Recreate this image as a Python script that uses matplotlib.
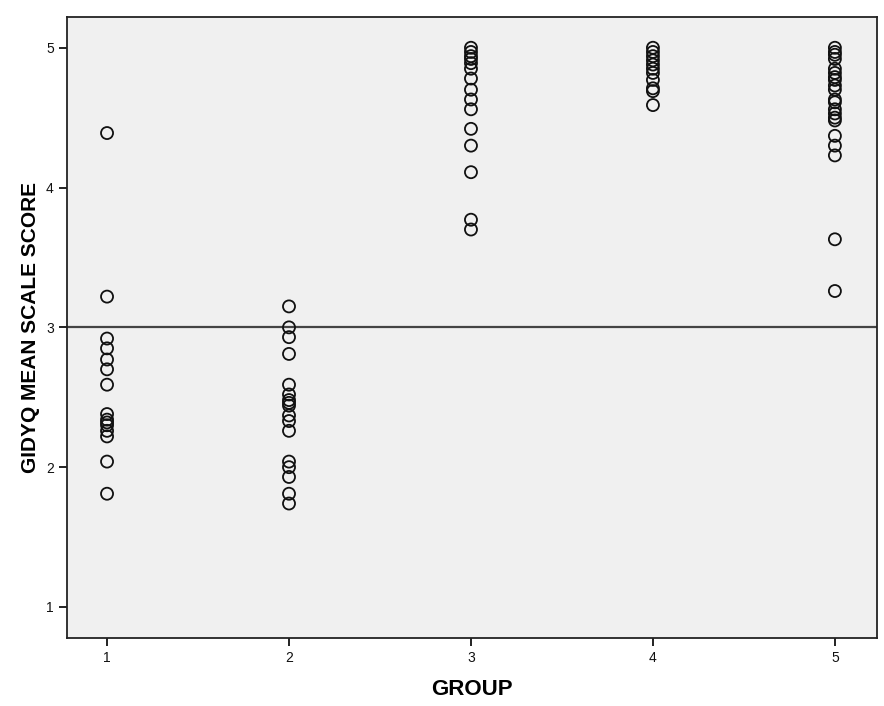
import matplotlib.pyplot as plt

# scores, one list per group
group1 = [4.39, 3.22, 2.92, 2.85, 2.77, 2.70, 2.59, 2.38, 2.34, 2.32, 2.30, 2.26, 2.22, 2.04, 1.81]
group2 = [3.15, 3.00, 2.93, 2.81, 2.59, 2.52, 2.48, 2.46, 2.44, 2.37, 2.33, 2.26, 2.04, 2.00, 1.93, 1.81, 1.74]
group3 = [5.00, 4.97, 4.94, 4.92, 4.89, 4.85, 4.78, 4.70, 4.63, 4.56, 4.42, 4.30, 4.11, 3.77, 3.70]
group4 = [5.00, 4.97, 4.94, 4.91, 4.88, 4.85, 4.82, 4.77, 4.71, 4.69, 4.59]
group5 = [5.00, 4.97, 4.95, 4.92, 4.85, 4.82, 4.79, 4.77, 4.73, 4.70, 4.63, 4.61,
          4.56, 4.53, 4.50, 4.48, 4.37, 4.30, 4.23, 3.63, 3.26]
groups = [group1, group2, group3, group4, group5]
group_ids = [1, 2, 3, 4, 5]
cutoff = 3

plt.rcParams['font.family'] = ['Liberation Sans', 'DejaVu Sans']

fig = plt.figure(figsize=(8.84, 7.06), dpi=100)
ax = fig.add_axes([0.0758, 0.0963, 0.916, 0.88])
ax.set_facecolor('#f0f0f0')

for gid, vals in zip(group_ids, groups):
    ax.scatter([gid] * len(vals), vals, s=75, facecolors='none',
               edgecolors='#111111', linewidths=1.3, zorder=3)

ax.axhline(cutoff, color='#444444', lw=1.6, zorder=2)

ax.set_xlim(0.78, 5.23)
ax.set_ylim(0.778, 5.222)
ax.set_xticks(group_ids)
ax.set_yticks([1, 2, 3, 4, 5])
ax.tick_params(direction='out', length=6, width=1.3, labelsize=10, colors='#111111')
for sp in ax.spines.values():
    sp.set_linewidth(1.3)
    sp.set_color('#222222')

ax.set_xlabel('GROUP', fontsize=16, fontweight='bold', labelpad=10)
ax.set_ylabel('GIDYQ MEAN SCALE SCORE', fontsize=15, fontweight='bold', labelpad=4)

fig.savefig('out.png', dpi=100)
